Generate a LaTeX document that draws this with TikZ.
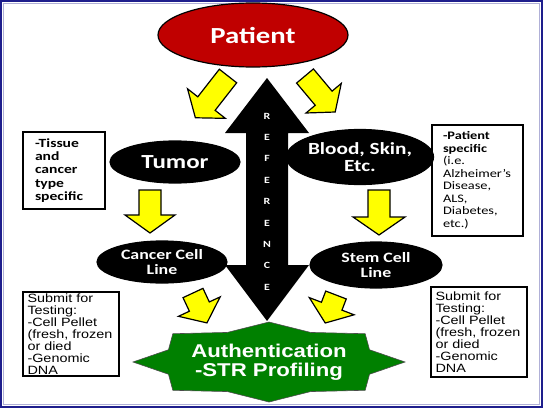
\documentclass[tikz,border=0pt]{standalone}
\usepackage{fontspec}
\setmainfont{Carlito}
\newfontfamily\calfont[FakeStretch=1.25]{Carlito}
\newfontfamily\arialfont[FakeStretch=1.2]{Liberation Sans}
\usetikzlibrary{shapes.geometric, positioning}
\definecolor{patred}{RGB}{192, 0, 0}
\definecolor{authgreen}{RGB}{0, 128, 0}
\definecolor{arrowyellow}{RGB}{255, 255, 0}
\definecolor{framenavy}{RGB}{30, 30, 140}

\tikzset{
  pics/blockarrow/.style args={#1/#2}{% length / head width
    code={\draw[draw=black, line width=1.2pt, fill=arrowyellow, line join=miter]
      (0,-11) -- ({#1-18},-11) -- ({#1-18},{-#2/2}) -- (#1,0) -- ({#1-18},{#2/2}) -- ({#1-18},11) -- (0,11) -- cycle;}
  }
}

\begin{document}
\begin{tikzpicture}[x=1pt, y=1pt,
  oval/.style={ellipse, draw=black, line width=1.2pt, fill=black, text=white, inner sep=0pt, align=center},
  notebox/.style={draw=black, line width=1.2pt, align=left, inner ysep=1pt},
  reftext/.style={text=white, font=\calfont\bfseries\fontsize{9.5}{9.5}\selectfont, inner sep=0pt}
]
  \useasboundingbox (0,0) rectangle (543,408);
  \fill[white] (0,0) rectangle (543,408);
  \draw[framenavy!35, line width=1.5pt] (3.5,3.5) rectangle (539.5,404.5);
  \draw[framenavy, line width=2pt] (1,1) rectangle (542,407);

  % Top
  \node[oval, fill=patred, minimum width=190pt, minimum height=64pt, font=\calfont\bfseries\fontsize{23}{25}\selectfont] (patient) at (253, 373) {Patient};

  % Reference arrow
  \fill[black] (267,330) -- (309,275) -- (288,275) -- (288,143) -- (309,143) -- (267,87)
    -- (225,143) -- (246,143) -- (246,275) -- (225,275) -- cycle;
  \foreach \l [count=\i] in {R,E,F,E,R,E,N,C,E}
    \node[reftext] (ref\i) at (267, {292 - (\i-1)*21.4}) {\l};

  % Sources
  \node[oval, minimum width=130pt, minimum height=42pt, font=\calfont\bfseries\fontsize{20}{22}\selectfont] (tumor) at (175, 246) {Tumor};
  \node[oval, minimum width=130pt, minimum height=55pt, font=\calfont\bfseries\fontsize{17}{17}\selectfont] (blood) at (360, 251) {Blood, Skin,\\Etc.};

  % Cell lines
  \node[oval, minimum width=130pt, minimum height=42pt, font=\calfont\bfseries\fontsize{14.3}{14.5}\selectfont] (cancer) at (162, 146) {Cancer Cell\\Line};
  \node[oval, minimum width=132pt, minimum height=46pt, font=\calfont\bfseries\fontsize{14.3}{14.5}\selectfont] (stem) at (376, 143) {Stem Cell\\Line};

  % Authentication
  \draw[black!70, fill=authgreen, line width=0.6pt] plot[samples at={0,...,15}]
    ({269 + 136*(1-0.2*mod(\x,2))*cos(22.5*\x)}, {46 + 40*(1-0.2*mod(\x,2))*sin(22.5*\x)}) -- cycle;
  \node[text=white, align=center, inner sep=0pt, font=\arialfont\bfseries\fontsize{18.5}{19}\selectfont] (auth) at (269, 46) {Authentication\\-STR Profiling};

  % Yellow arrows
  \pic[rotate=-128] (a1) at (228, 332) {blockarrow=53/48};
  \pic[rotate=-50] (a2) at (305, 332) {blockarrow=47/46};
  \pic[rotate=-90] (a3) at (150, 218) {blockarrow=43/50};
  \pic[rotate=-90] (a4) at (379, 218) {blockarrow=45/52};
  \pic[rotate=-65] (a5) at (193, 115) {blockarrow=33/46};
  \pic[rotate=-111] (a6) at (336, 113) {blockarrow=30/48};

  % Notes
  \node[notebox, inner xsep=12pt, text width=58pt, minimum height=77pt, font=\calfont\bfseries\fontsize{12.5}{13.3}\selectfont] (tissue) at (64, 237.5) {-Tissue\\and\\cancer\\type\\specific};
  \node[notebox, inner xsep=11pt, text width=69pt, minimum height=111pt, font=\calfont\fontsize{11.5}{12.5}\selectfont] (pspec) at (477.5, 227.5) {\textbf{-Patient}\\\textbf{specific}\\(i.e.\\Alzheimer’s\\Disease,\\ALS,\\Diabetes,\\etc.)};
  \node[notebox, inner xsep=4.5pt, text width=87pt, minimum height=84pt, font=\arialfont\fontsize{12}{12}\selectfont] (subleft) at (71, 74) {Submit for\\Testing:\\-Cell Pellet\\(fresh, frozen\\or died\\-Genomic\\DNA};
  \node[notebox, inner xsep=4.5pt, text width=87pt, minimum height=90pt, font=\arialfont\fontsize{12}{12}\selectfont] (subright) at (479, 76) {Submit for\\Testing:\\-Cell Pellet\\(fresh, frozen\\or died\\-Genomic\\DNA};
\end{tikzpicture}
\end{document}
